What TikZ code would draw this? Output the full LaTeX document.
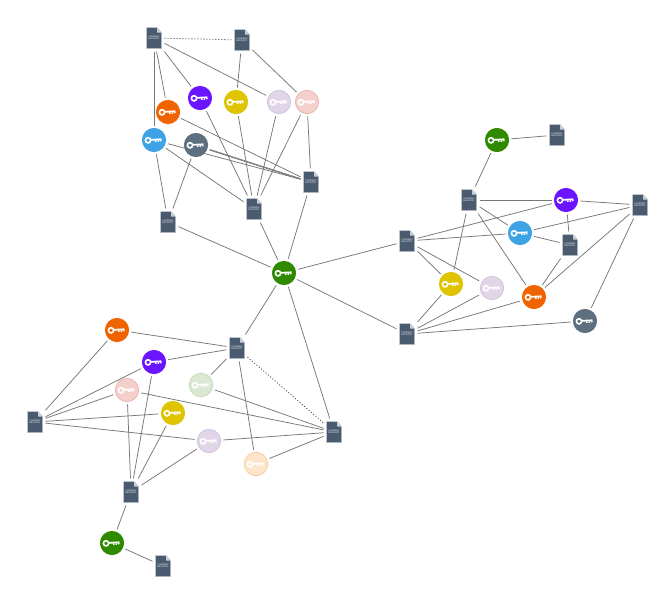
\documentclass[tikz,border=0pt]{standalone}
\definecolor{cOrange}{HTML}{F06400}
\definecolor{cPurple}{HTML}{6A14FF}
\definecolor{cYellow}{HTML}{E0C400}
\definecolor{cBlue}{HTML}{3DA3E4}
\definecolor{cSlate}{HTML}{5E6F80}
\definecolor{cGreen}{HTML}{2F8A00}
\definecolor{cLilac}{HTML}{E0D6E8}
\definecolor{bLilac}{HTML}{CFC0DC}
\definecolor{cPink}{HTML}{F5CFCB}
\definecolor{bPink}{HTML}{E8B5B0}
\definecolor{cMint}{HTML}{DCE8D4}
\definecolor{bMint}{HTML}{BCD8B0}
\definecolor{cPeach}{HTML}{FDE5CC}
\definecolor{bPeach}{HTML}{F5CF95}
\definecolor{cDoc}{HTML}{4A5B70}
\definecolor{cLine}{HTML}{777777}
\tikzset{
  docbox/.style={rectangle,minimum width=15pt,minimum height=21pt,inner sep=0pt,outer sep=3pt},
  keybox/.style={circle,minimum size=24pt,inner sep=0pt,outer sep=2.5pt},
  link/.style={draw=cLine,line width=0.75pt},
  dotlink/.style={draw=black!75,line width=0.8pt,dash pattern=on 1pt off 2pt}
}
\newcommand{\docn}[3]{%
  \node[docbox] (#1) at (#2,#3) {};
  \fill[cDoc,draw=cDoc!35,line width=0.5pt,line join=round] ([shift={(-7.5,-10.5)}]#1.center) -- ([shift={(3,-10.5)}]#1.center) -- ([shift={(7.5,-5.5)}]#1.center) -- ([shift={(7.5,10.5)}]#1.center) -- ([shift={(-7.5,10.5)}]#1.center) -- cycle;
  \fill[white!70!cDoc] ([shift={(3,-10.5)}]#1.center) -- ([shift={(7.5,-5.5)}]#1.center) -- ([shift={(3,-5.5)}]#1.center) -- cycle;
  \node[text=white,font=\fontsize{2.2}{2.5}\selectfont\sffamily,align=center,inner sep=0pt] at ([yshift=0.5]#1.center) {COMPANY\\REGISTRY};
}
\newcommand{\keyn}[5]{%
  \node[keybox] (#1) at (#2,#3) {};
  \fill[#4,draw=#5,line width=0.7pt] (#1.center) circle (11.7pt);
  \begin{scope}[shift={(#1.center)},rotate=3]
    \draw[white,line width=1.6pt] (-6,0) circle (2.6pt);
    \fill[white] (-3.5,-1.2) rectangle (7.5,0.6);
    \fill[white] (1,0.6) rectangle (2.5,2) (3.5,0.6) rectangle (5,2) (6,0.6) rectangle (7.5,1.6);
  \end{scope}
}
\begin{document}
\begin{tikzpicture}[x=1pt,y=-1pt]
\useasboundingbox (0,0) rectangle (664,589);
\fill[white] (0,0) rectangle (664,589);
% nodes placed first so that links can name them
\path
  node[docbox] (d1) at (154,38) {} node[docbox] (d2) at (242,40) {}
  node[docbox] (d3) at (311,182) {} node[docbox] (d4) at (254,209) {}
  node[docbox] (d5) at (168,222) {}
  node[keybox] (tOr) at (168,112) {} node[keybox] (tPu) at (200,98) {}
  node[keybox] (tYe) at (236,102) {} node[keybox] (tLi) at (279,102) {}
  node[keybox] (tPi) at (307,102) {} node[keybox] (tBl) at (154,140) {}
  node[keybox] (tSl) at (196,145) {} node[keybox] (cG) at (284,273) {}
  node[keybox] (rG) at (497,140) {} node[docbox] (r1) at (557,135) {}
  node[docbox] (r2) at (469,200) {} node[keybox] (rPu) at (566,200) {}
  node[docbox] (r3) at (640,205) {} node[keybox] (rBl) at (520,233) {}
  node[docbox] (r4) at (570,245) {} node[docbox] (r5) at (407,241) {}
  node[keybox] (rYe) at (451,284) {} node[keybox] (rLi) at (492,288) {}
  node[keybox] (rOr) at (534,297) {} node[keybox] (rSl) at (585,321) {}
  node[docbox] (r6) at (407,334) {}
  node[keybox] (lOr) at (117,330) {} node[docbox] (l1) at (237,348) {}
  node[keybox] (lPu) at (154,362) {} node[keybox] (lPi) at (127,390) {}
  node[keybox] (lMi) at (201,385) {} node[keybox] (lYe) at (173,413) {}
  node[keybox] (lLi) at (209,441) {} node[docbox] (l2) at (35,422) {}
  node[docbox] (l3) at (334,432) {} node[keybox] (lPe) at (256,464) {}
  node[docbox] (l4) at (131,492) {} node[keybox] (lG) at (112,543) {}
  node[docbox] (l5) at (163,566) {};
% links
\foreach \a/\b in {d1/tLi,d1/tPu,d1/tOr,d1/tBl,d2/tYe,d2/tPi,tPu/d4,tYe/d4,tLi/d4,tPi/d4,tPi/d3,tOr/d3,tBl/d3,tSl/d3,tBl/d4,tBl/d5,tSl/d5,d4/cG,d3/cG,d5/cG,cG/r5,cG/r6,cG/l1,cG/l3,
  rG/r1,rG/r2,r2/rPu,r2/rBl,r2/rOr,r2/rYe,rPu/r5,rPu/r3,rPu/r4,rBl/r5,rBl/r3,rBl/r4,r4/rOr,r3/rOr,r3/rSl,r5/rYe,r5/rLi,r6/rYe,r6/rLi,r6/rOr,r6/rSl,
  lOr/l1,lOr/l2,lPu/l1,lPu/l2,lPu/l4,lPi/l2,lPi/l3,lPi/l4,lMi/l1,lMi/l3,lYe/l2,lYe/l4,lLi/l2,lLi/l3,lLi/l4,lPe/l1,lPe/l3,l4/lG,lG/l5}
  {\draw[link] (\a) -- (\b);}
\draw[link,transform canvas={yshift=-0.7pt}] (tSl) -- (d3);
\draw[dotlink] (d1) -- (d2);
\draw[dotlink] (l1) -- (l3);
% document icons
\docn{d1}{154}{38}\docn{d2}{242}{40}\docn{d3}{311}{182}\docn{d4}{254}{209}\docn{d5}{168}{222}
\docn{r1}{557}{135}\docn{r2}{469}{200}\docn{r3}{640}{205}\docn{r4}{570}{245}\docn{r5}{407}{241}\docn{r6}{407}{334}
\docn{l1}{237}{348}\docn{l2}{35}{422}\docn{l3}{334}{432}\docn{l4}{131}{492}\docn{l5}{163}{566}
% key icons
\keyn{tOr}{168}{112}{cOrange}{cOrange}\keyn{tPu}{200}{98}{cPurple}{cPurple}
\keyn{tYe}{236}{102}{cYellow}{cYellow}\keyn{tLi}{279}{102}{cLilac}{bLilac}
\keyn{tPi}{307}{102}{cPink}{bPink}\keyn{tBl}{154}{140}{cBlue}{cBlue}
\keyn{tSl}{196}{145}{cSlate}{cSlate}\keyn{cG}{284}{273}{cGreen}{cGreen}
\keyn{rG}{497}{140}{cGreen}{cGreen}\keyn{rPu}{566}{200}{cPurple}{cPurple}
\keyn{rBl}{520}{233}{cBlue}{cBlue}\keyn{rYe}{451}{284}{cYellow}{cYellow}
\keyn{rLi}{492}{288}{cLilac}{bLilac}\keyn{rOr}{534}{297}{cOrange}{cOrange}
\keyn{rSl}{585}{321}{cSlate}{cSlate}
\keyn{lOr}{117}{330}{cOrange}{cOrange}\keyn{lPu}{154}{362}{cPurple}{cPurple}
\keyn{lPi}{127}{390}{cPink}{bPink}\keyn{lMi}{201}{385}{cMint}{bMint}
\keyn{lYe}{173}{413}{cYellow}{cYellow}\keyn{lLi}{209}{441}{cLilac}{bLilac}
\keyn{lPe}{256}{464}{cPeach}{bPeach}\keyn{lG}{112}{543}{cGreen}{cGreen}
\end{tikzpicture}
\end{document}
